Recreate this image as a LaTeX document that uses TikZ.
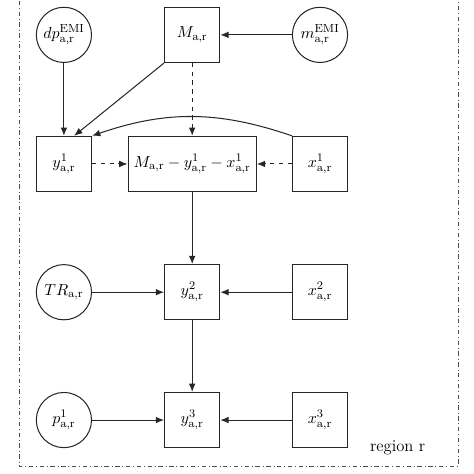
\documentclass[tikz,border=0pt]{standalone}
\usepackage{amsmath}
\usetikzlibrary{arrows.meta, positioning, calc}

\begin{document}
\begin{tikzpicture}[
    font=\fontsize{11.4}{13}\selectfont,
    var/.style={rectangle,draw=black!85,line width=0.7pt,minimum size=1.33cm,inner sep=0pt},
    par/.style={circle,draw=black!85,line width=0.7pt,minimum size=1.33cm,inner sep=0pt},
    arr/.style={line width=0.7pt,black!85,-{Latex[length=2mm,width=1.6mm]}},
    darr/.style={arr,dashed}]
    \useasboundingbox (0,0) rectangle (11.42,-11.42);
    \draw[dash dot,black!70,line width=0.6pt](0.46,0.5) rectangle (11.04,-11.23);
    % top row
    \node[par](dp)at(1.54,-0.84){$dp_{\mathrm{a,r}}^{\mathrm{EMI}}$};
    \node[var](M)at(4.63,-0.84){$M_{\mathrm{a,r}}$};
    \node[par](m)at(7.71,-0.84){$m_{\mathrm{a,r}}^{\mathrm{EMI}}$};
    % first stage
    \node[var](y1)at(1.54,-3.95){$y_{\mathrm{a,r}}^{1}$};
    \node[var,minimum width=3.09cm](rest)at(4.63,-3.95)
         {$M_{\mathrm{a,r}}-y_{\mathrm{a,r}}^{1}-x_{\mathrm{a,r}}^{1}$};
    \node[var](x1)at(7.71,-3.95){$x_{\mathrm{a,r}}^{1}$};
    % second stage
    \node[par](TR)at(1.54,-7.04){$TR_{\mathrm{a,r}}$};
    \node[var](y2)at(4.63,-7.04){$y_{\mathrm{a,r}}^{2}$};
    \node[var](x2)at(7.71,-7.04){$x_{\mathrm{a,r}}^{2}$};
    % third stage
    \node[par](p1)at(1.54,-10.12){$p_{\mathrm{a,r}}^{1}$};
    \node[var](y3)at(4.63,-10.12){$y_{\mathrm{a,r}}^{3}$};
    \node[var](x3)at(7.71,-10.12){$x_{\mathrm{a,r}}^{3}$};
    \node(reg)at(9.58,-10.78){region r};
    % arrows
    \draw[arr](m)--(M);
    \draw[arr](dp)--(y1);
    \draw[arr](M.south west)--(y1.70);
    \draw[arr](x1.north west)to[bend right=19](y1.north east);
    \draw[darr](M)--(rest);
    \draw[darr](y1)--(rest);
    \draw[darr](x1)--(rest);
    \draw[arr](rest)--(y2);
    \draw[arr](TR)--(y2);
    \draw[arr](x2)--(y2);
    \draw[arr](y2)--(y3);
    \draw[arr](p1)--(y3);
    \draw[arr](x3)--(y3);
\end{tikzpicture}
\end{document}
